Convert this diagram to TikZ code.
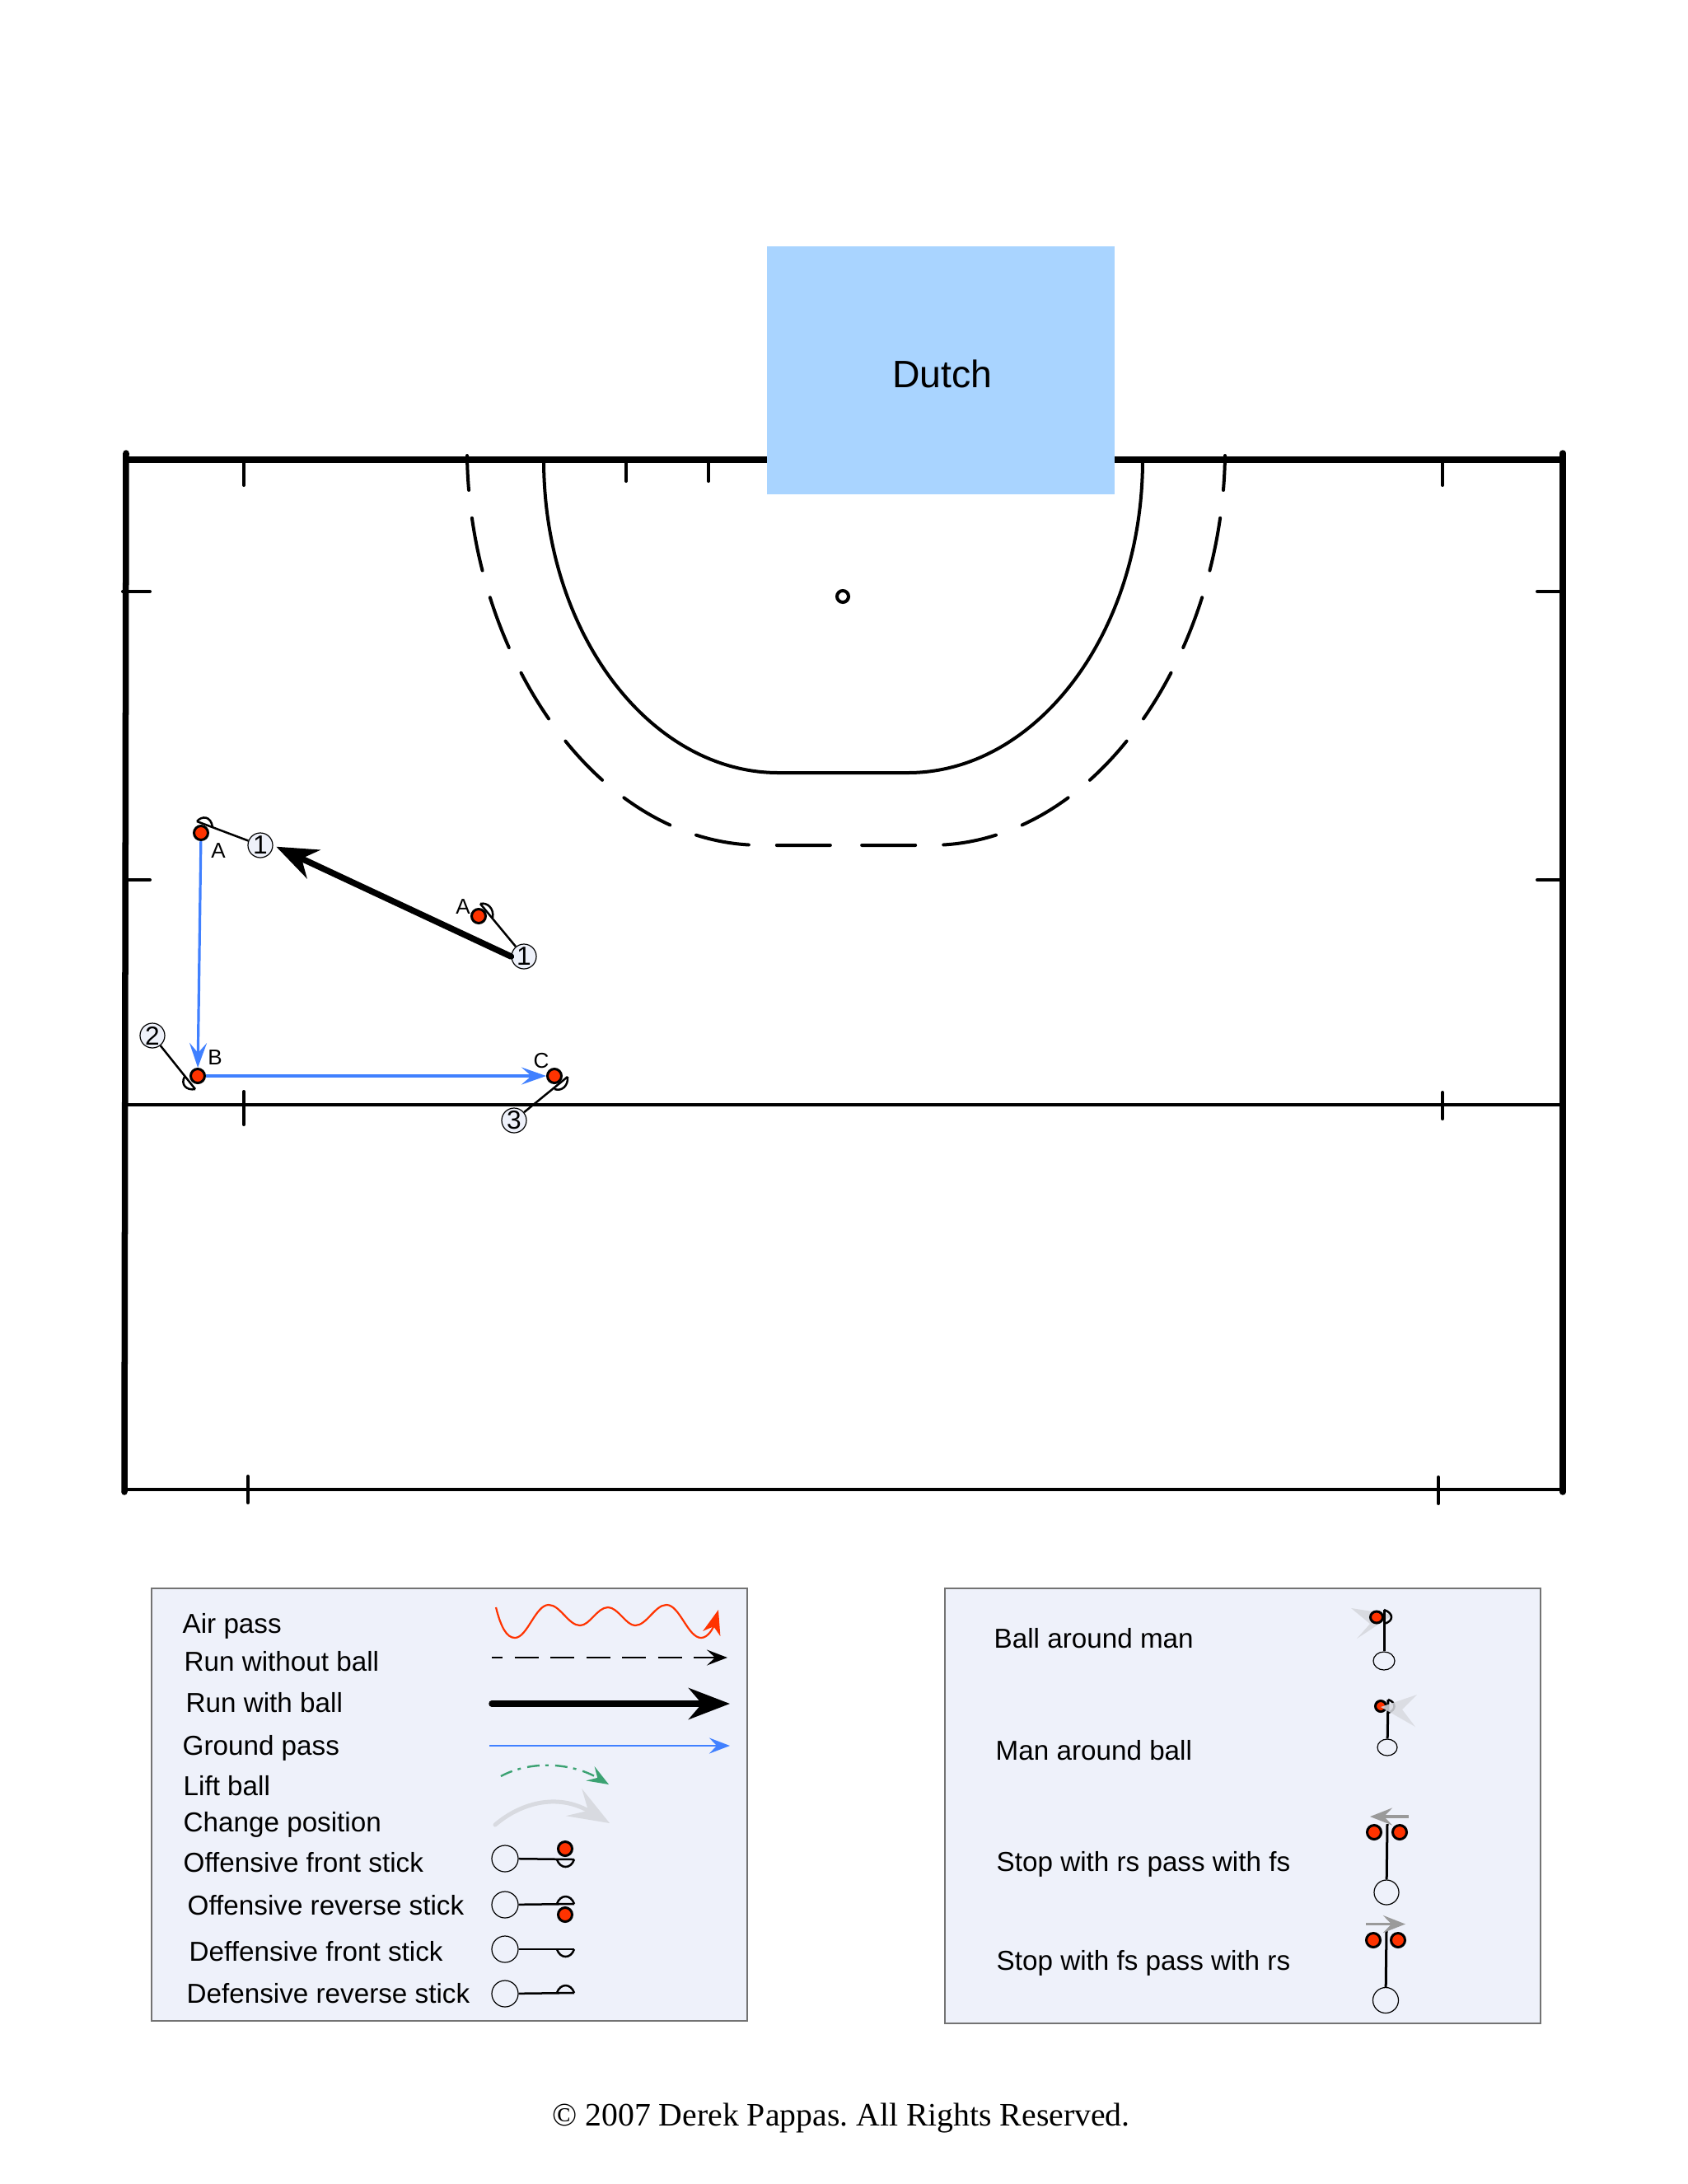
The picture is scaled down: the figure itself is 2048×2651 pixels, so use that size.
\documentclass[tikz,border=0pt]{standalone}
\usepackage{fontspec}
\setmainfont{Liberation Sans}
\newfontfamily\copyfont{Liberation Serif}
\usetikzlibrary{arrows.meta, shapes.geometric}

\definecolor{goalblue}{HTML}{A9D4FF}
\definecolor{panelblue}{HTML}{EEF1FA}
\definecolor{passblue}{HTML}{4080FF}
\definecolor{ballred}{HTML}{FF3300}
\definecolor{liftgreen}{HTML}{3BA272}
\definecolor{movegray}{HTML}{D8DAE0}
\definecolor{turngray}{HTML}{9A9A9A}

\tikzset{
  boundary/.style={line width=0.075cm, line cap=round},
  tickline/.style={line width=0.04cm, line cap=round},
  circleline/.style={line width=0.04cm, line cap=round},
  goalbox/.style={fill=goalblue, inner sep=0pt, minimum width=4.22cm, minimum height=3.01cm},
  player/.style={circle, draw, line width=0.012cm, fill=panelblue, inner sep=0pt, minimum size=0.3cm, font=\fontsize{9}{9}\selectfont},
  legendman/.style={circle, draw, line width=0.012cm, inner sep=0pt, minimum size=0.32cm},
  ball/.style={circle, draw, line width=0.03cm, fill=ballred, inner sep=0pt, minimum size=0.17cm},
  stick/.style={line width=0.025cm},
  hook/.style={line width=0.025cm},
  tag/.style={inner sep=0pt, font=\fontsize{7.4}{8}\selectfont},
  legendbox/.style={draw=black!55, line width=0.015cm, fill=panelblue},
  legendtext/.style={anchor=base west, inner sep=0pt, font=\fontsize{9.45}{11}\selectfont},
  runball/.style={line width=0.075cm, line cap=round, -{Stealth[length=0.5cm, width=0.38cm, inset=0.16cm]}},
  groundpass/.style={line width=0.032cm, passblue, -{Stealth[length=0.3cm, width=0.21cm, inset=0.12cm]}},
  turnarrow/.style={line width=0.035cm, turngray, -{Stealth[length=0.27cm, width=0.21cm, inset=0.1cm]}}
}

\begin{document}
\frenchspacing
\begin{tikzpicture}[x=0.01cm, y=-0.01cm]
  \useasboundingbox (0,0) rectangle (2048,2651);

  \draw[boundary] (153,558) -- (1897,558);
  \draw[boundary] (153,550) -- (151,1811);
  \draw[boundary] (1897,550) -- (1897,1811);
  \draw[line width=0.04cm] (151,1808) -- (1897,1808);
  \draw[line width=0.04cm] (151,1341) -- (1897,1341);

  \draw[tickline] (296,558) -- (296,589);
  \draw[tickline] (760,558) -- (760,584);
  \draw[tickline] (860,558) -- (860,584);
  \draw[tickline] (1751,558) -- (1751,589);
  \draw[tickline] (149,718) -- (182,718);
  \draw[tickline] (1866,718) -- (1897,718);
  \draw[tickline] (154,1068) -- (182,1068);
  \draw[tickline] (1866,1068) -- (1897,1068);
  \draw[tickline] (296,1325) -- (296,1365);
  \draw[tickline] (1751,1326) -- (1751,1358);
  \draw[tickline] (301,1792) -- (301,1824);
  \draw[tickline] (1746,1793) -- (1746,1825);

  \draw[circleline] (660,558) .. controls (660,770) and (790,938) .. (945,938) -- (1102,938) .. controls (1257,938) and (1387,770) .. (1387,558);
  \draw[circleline, dash pattern=on 0.65cm off 0.34cm, dash phase=0.23cm] (567,553) .. controls (570,790) and (720,1026) .. (925,1026) -- (1027,1026);
  \draw[circleline, dash pattern=on 0.65cm off 0.34cm, dash phase=0.23cm] (1487,553) .. controls (1484,790) and (1334,1026) .. (1129,1026) -- (1027,1026);
  \draw[line width=0.04cm] (1023,724) circle (7);

  \node[goalbox] (goal) at (1142,449.5) {};
  \node[font=\fontsize{13.2}{15}\selectfont, inner sep=0pt] (dutch) at (1144,454) {Dutch};

  % players on the field
  \node[player] (p1) at (316,1026) {1};
  \node[ball] (a1) at (244,1011) {};
  \node[tag] (la1) at (265,1033) {A};
  \coordinate (s1) at (239,997);
  \draw[stick] (p1) -- (s1);
  \draw[hook] (s1) .. controls (245,990) and (256,990) .. (258,1004);

  \node[player] (p2) at (636,1161) {1};
  \node[ball] (a2) at (581,1112) {};
  \node[tag] (la2) at (562,1101) {A};
  \coordinate (s2) at (583,1097);
  \draw[stick] (p2) -- (s2);
  \draw[hook] (s2) .. controls (592,1095) and (600,1103) .. (598,1114);

  \node[player] (p3) at (185,1257) {2};
  \node[ball] (b1) at (240,1306) {};
  \node[tag] (lb1) at (261,1284) {B};
  \coordinate (s3) at (237,1322);
  \draw[stick] (p3) -- (s3);
  \draw[hook] (224,1307) .. controls (219,1316) and (226,1324) .. (s3);

  \node[player] (p4) at (624,1360) {3};
  \node[ball] (c1) at (673,1306) {};
  \node[tag] (lc1) at (657,1288) {C};
  \coordinate (s4) at (689,1307);
  \draw[stick] (p4) -- (s4);
  \draw[hook] (s4) .. controls (690,1318) and (682,1325) .. (673,1322);

  \draw[runball, shorten >=0.04cm] (p2.west) -- (p1.east);
  \draw[groundpass] (a1) -- (b1);
  \draw[groundpass] (b1) -- (c1);

  % left legend
  \draw[legendbox] (184,1928) rectangle (907,2453);
  \node[legendtext] (t1) at (221,1982) {Air pass};
  \node[legendtext] (t2) at (223,2028) {Run without ball};
  \node[legendtext] (t3) at (225,2078) {Run with ball};
  \node[legendtext] (t4) at (221,2130) {Ground pass};
  \node[legendtext] (t5) at (222,2179) {Lift ball};
  \node[legendtext] (t6) at (222,2223) {Change position};
  \node[legendtext] (t7) at (222,2272) {Offensive front stick};
  \node[legendtext] (t8) at (227,2324) {Offensive reverse stick};
  \node[legendtext] (t9) at (229,2380) {Deffensive front stick};
  \node[legendtext] (t10) at (226,2431) {Defensive reverse stick};

  \draw[line width=0.022cm, ballred, -{Stealth[length=0.3cm, width=0.22cm, inset=0.09cm]}] (602,1951) .. controls (608,1975) and (615,1988) .. (625,1988) .. controls (640,1988) and (650,1948) .. (666,1948) .. controls (680,1948) and (690,1973) .. (704,1973) .. controls (716,1973) and (725,1951) .. (738,1951) .. controls (750,1951) and (760,1973) .. (771,1973) .. controls (785,1973) and (795,1948) .. (809,1948) .. controls (825,1948) and (835,1988) .. (851,1988) .. controls (860,1988) and (866,1975) .. (872,1954);
  \draw[line width=0.022cm, dash pattern=on 0.29cm off 0.145cm, dash phase=0.16cm, -{Stealth[length=0.25cm, width=0.19cm, inset=0.1cm]}] (597,2012) -- (883,2012);
  \draw[runball] (597,2068) -- (886,2068);
  \draw[line width=0.022cm, passblue, -{Stealth[length=0.25cm, width=0.19cm, inset=0.09cm]}] (594,2119) -- (886,2119);
  \draw[line width=0.024cm, liftgreen, dash pattern=on 0.15cm off 0.07cm on 0.04cm off 0.08cm, -{Stealth[length=0.26cm, width=0.2cm, inset=0.1cm]}] (608,2156) .. controls (645,2136) and (695,2140) .. (739,2166);
  \draw[line width=0.05cm, line cap=round, movegray, -{Stealth[length=0.5cm, width=0.38cm, inset=0.2cm]}] (601,2215) .. controls (630,2190) and (675,2175) .. (740,2213);

  \node[legendman] (m1) at (613,2256) {};
  \node[ball] (mb1) at (686,2244) {};
  \coordinate (e1) at (697,2257);
  \draw[stick] (m1) -- (e1);
  \draw[hook] (676,2257) .. controls (680,2269) and (693,2269) .. (e1);

  \node[legendman] (m2) at (613,2312) {};
  \node[ball] (mb2) at (686,2324) {};
  \coordinate (e2) at (697,2311);
  \draw[stick] (m2) -- (e2);
  \draw[hook] (676,2311) .. controls (680,2299) and (693,2299) .. (e2);

  \node[legendman] (m3) at (613,2366) {};
  \coordinate (e3) at (697,2366);
  \draw[stick] (m3) -- (e3);
  \draw[hook] (676,2366) .. controls (680,2378) and (693,2378) .. (e3);

  \node[legendman] (m4) at (613,2420) {};
  \coordinate (e4) at (697,2419);
  \draw[stick] (m4) -- (e4);
  \draw[hook] (676,2419) .. controls (680,2407) and (693,2407) .. (e4);

  % right legend
  \draw[legendbox] (1147,1928) rectangle (1870,2456);
  \node[legendtext] (r1) at (1206,2000) {Ball around man};
  \node[legendtext] (r2) at (1208,2136) {Man around ball};
  \node[legendtext] (r3) at (1209,2271) {Stop with rs pass with fs};
  \node[legendtext] (r4) at (1209,2391) {Stop with fs pass with rs};

  \fill[movegray] (1640,1952) -- (1691,1960) -- (1647,1989) -- (1663,1971) -- cycle;
  \node[ellipse, draw, line width=0.012cm, inner sep=0pt, minimum width=0.26cm, minimum height=0.22cm] (n1) at (1680,2016) {};
  \node[ball, ellipse, minimum width=0.15cm, minimum height=0.14cm] (nb1) at (1671,1963) {};
  \coordinate (f1) at (1680,1954);
  \draw[line width=0.03cm] (n1) -- (f1);
  \draw[hook] (f1) .. controls (1692,1958) and (1692,1968) .. (1680,1971);

  \node[ellipse, draw, line width=0.012cm, inner sep=0pt, minimum width=0.24cm, minimum height=0.2cm] (n2) at (1684,2121) {};
  \node[ball, minimum size=0.13cm] (nb2) at (1676,2071) {};
  \coordinate (f2) at (1685,2063);
  \draw[line width=0.03cm] (n2) -- (f2);
  \draw[hook] (f2) .. controls (1695,2066) and (1695,2076) .. (1685,2079);
  \fill[movegray, opacity=0.85] (1720,2057) -- (1676,2072) -- (1718,2096) -- (1702,2075) -- cycle;

  \node[legendman, minimum size=0.3cm] (n3) at (1683,2297) {};
  \node[ball] (nb3) at (1668,2224) {};
  \node[ball] (nc3) at (1699,2224) {};
  \coordinate (f3) at (1684,2214);
  \draw[line width=0.03cm] (n3) -- (f3);
  \draw[turnarrow] (1710,2205) -- (1663,2205);

  \node[legendman, minimum size=0.31cm] (n4) at (1682,2428) {};
  \node[ball] (nb4) at (1667,2355) {};
  \node[ball] (nc4) at (1697,2355) {};
  \coordinate (f4) at (1683,2344);
  \draw[line width=0.03cm] (n4) -- (f4);
  \draw[turnarrow] (1658,2335.5) -- (1706,2335.5);

  \node[anchor=base, inner sep=0pt, font=\copyfont\fontsize{11.3}{13}\selectfont] (rights) at (1021,2580) {© 2007 Derek Pappas. All Rights Reserved.};
\end{tikzpicture}
\end{document}
